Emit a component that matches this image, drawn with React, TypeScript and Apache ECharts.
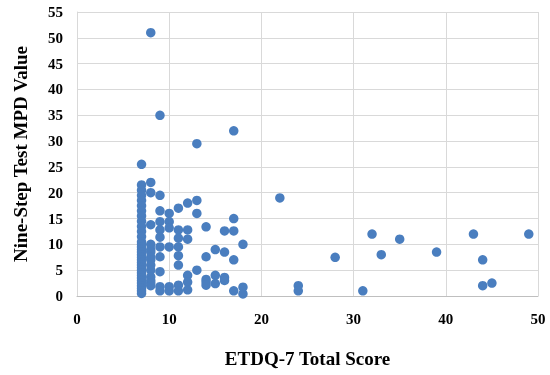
import React, { useEffect, useRef } from "react";
import * as echarts from "echarts";

// ETDQ-7 total score (x) and Nine-Step Test MPD value (y)
const scoreX: number[] = [
  7, 7, 7, 7, 7, 7, 7, 7, 7, 7, 7, 7, 7, 7, 7, 7, 7, 7, 7, 7, 7, 7, 7, 7, 7, 7, 7, 7, 7, 7, 7, 7, 7,
  8, 8, 8, 8, 8, 8, 8, 8, 8, 8, 8, 8, 8, 8, 8,
  9, 9, 9, 9, 9, 9, 9, 9, 9, 9, 9,
  10, 10, 10, 10, 10, 10,
  11, 11, 11, 11, 11, 11, 11, 11,
  12, 12, 12, 12, 12, 12,
  13, 13, 13, 13,
  14, 14, 14, 14, 14,
  15, 15, 15,
  16, 16, 16, 16,
  17, 17, 17, 17, 17,
  18, 18, 18,
  22, 24, 24, 28, 31, 32, 33, 35, 39, 43, 44, 44, 45, 49,
];
const mpdY: number[] = [
  25.5, 21.5, 20.5, 19.5, 18.5, 17.5, 16.5, 15.5, 14.5, 13.5, 12.5, 11.5, 10.5, 10, 9.5, 9, 8.5, 8, 7.5, 7, 6.5, 6, 5.5, 5, 4.5, 4, 3.5, 3, 2.5, 2, 1.5, 1, 0.5,
  51, 22, 20, 13.8, 10, 9, 8.5, 7.5, 7, 6, 5, 3.7, 3, 2.5, 2,
  35, 19.5, 16.5, 14.4, 12.8, 11.4, 9.5, 7.6, 4.7, 1.8, 1,
  16, 14.4, 13.2, 9.5, 1.8, 1,
  17, 12.8, 11.2, 9.5, 7.8, 6, 2.1, 1,
  18, 12.8, 11, 4, 2.7, 1.2,
  29.5, 18.5, 16, 5,
  13.4, 7.6, 3.2, 2.7, 2.1,
  9, 4, 2.4,
  12.6, 8.5, 3.6, 3,
  32, 15, 12.6, 7, 1,
  10, 1.7, 0.4,
  19, 2, 1, 7.5, 1, 12, 8, 11, 8.5, 12, 7, 2, 2.5, 12,
];

const xTitle = "ETDQ-7 Total Score";
const yTitle = "Nine-Step Test MPD Value";

export default function App() {
  const ref = useRef<HTMLDivElement>(null);
  useEffect(() => {
    if (!ref.current) return;
    const chart = echarts.init(ref.current, null, { renderer: "svg" });
    const data = scoreX.map((x, i) => [x, mpdY[i]]);
    const font = "'Liberation Serif', 'DejaVu Serif', serif";
    chart.setOption({
      animation: false,
      grid: { left: 77, right: 12, top: 12, bottom: 79 },
      xAxis: {
        type: "value",
        min: 0,
        max: 50,
        interval: 10,
        name: xTitle,
        nameLocation: "middle",
        nameGap: 53,
        nameTextStyle: { fontFamily: font, fontWeight: "bold", fontSize: 19, color: "#000" },
        axisLine: { show: true, lineStyle: { color: "#bfbfbf", width: 1 } },
        axisTick: { show: false },
        axisLabel: { fontFamily: font, fontWeight: "bold", fontSize: 15, color: "#000", margin: 15 },
        splitLine: { show: true, lineStyle: { color: "#d9d9d9", width: 1 } },
      },
      yAxis: {
        type: "value",
        min: 0,
        max: 55,
        interval: 5,
        name: yTitle,
        nameLocation: "middle",
        nameGap: 47,
        nameTextStyle: { fontFamily: font, fontWeight: "bold", fontSize: 19, color: "#000" },
        axisLine: { show: true, lineStyle: { color: "#d9d9d9", width: 1 } },
        axisTick: { show: false },
        axisLabel: { fontFamily: font, fontWeight: "bold", fontSize: 15, color: "#000", margin: 14 },
        splitLine: { show: true, lineStyle: { color: "#d9d9d9", width: 1 } },
      },
      series: [
        {
          type: "scatter",
          data,
          symbolSize: 9.5,
          itemStyle: { color: "#4a7ebf", opacity: 1 },
        },
      ],
    });
    return () => chart.dispose();
  }, []);
  return (
    <div
      ref={ref}
      style={{ position: "fixed", left: 0, top: 0, width: 550, height: 375 }}
    />
  );
}
